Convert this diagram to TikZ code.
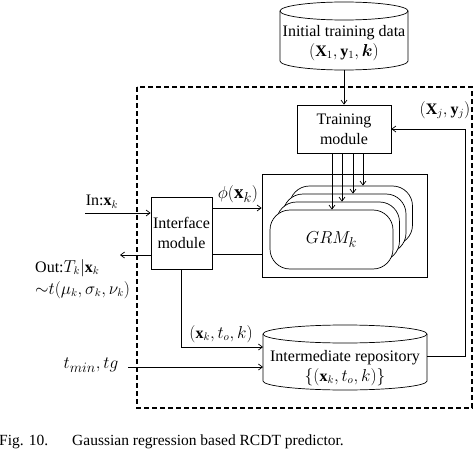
\documentclass[tikz,border=0pt]{standalone}
\usepackage{amsmath,bm}
\usepackage{fontspec}
\setmainfont{Liberation Serif}
\usetikzlibrary{arrows.meta}
\begin{document}
\begin{tikzpicture}[x=1pt,y=-1pt,
  every node/.style={font=\fontsize{16}{20}\selectfont},
  box/.style={draw, fill=white, inner sep=0pt, align=center, line width=0.7pt},
  grm/.style={draw, fill=white, rounded corners=20pt, minimum width=123pt, minimum height=59pt, inner sep=0pt, line width=0.7pt},
  lbl/.style={inner sep=0pt},
  conn/.style={line width=0.7pt},
  arr/.style={conn, -{Straight Barb[length=4pt,width=6pt]}},
  big/.style={font=\fontsize{19}{22}\selectfont},
  capstyle/.style={inner sep=0pt, anchor=west, font=\fontsize{15.5}{18}\selectfont}
]
\useasboundingbox (0,0) rectangle (474,452);
% dashed frame
\draw[line width=1.1pt, dash pattern=on 5pt off 3pt] (137,87) rectangle (472,408);
% initial training data cylinder
\draw[conn, fill=white] (280,11) -- (280,61) arc[start angle=180,end angle=0,x radius=64,y radius=9] -- (408,11);
\draw[conn] (344,11) ellipse[x radius=64,y radius=9];
\node[lbl, align=center] (init) at (344,43) {Initial training data\\$(\mathbf{X}_1,\mathbf{y}_1,\bm{k})$};
\coordinate (initbot) at (344,70);
% training module
\node[box, minimum width=94pt, minimum height=48pt] (train) at (344,129) {Training\\module};
\draw[arr] (initbot) -- (train.north);
% interface
\node[box, minimum width=61pt, minimum height=72pt] (iface) at (181.5,233) {Interface\\module};
% GRM container
\node[draw, inner sep=0pt, minimum width=165pt, minimum height=103pt, line width=0.7pt] (grmbox) at (344.5,225.5) {};
\node[grm] (g4) at (351,215.5) {};
\node[grm] (g3) at (344.5,223.5) {};
\node[grm] (g2) at (338,231.5) {};
\node[grm, font=\fontsize{19}{20}\selectfont] (g1) at (331.5,239.5) {$GRM_k$};
\coordinate (c1) at (332,0);
\coordinate (c2) at (342,0);
\coordinate (c3) at (353,0);
\coordinate (c4) at (363,0);
\draw[arr] (c1 |- train.south) -- (c1 |- g1.north);
\draw[arr] (c2 |- train.south) -- (c2 |- g2.north);
\draw[arr] (c3 |- train.south) -- (c3 |- g3.north);
\draw[arr] (c4 |- train.south) -- (c4 |- g4.north);
% phi
\coordinate (phiy) at (0,208);
\draw[arr] (iface.east |- phiy) -- (grmbox.west |- phiy);
\node[lbl, big] (philbl) at (238,194) {$\phi(\mathbf{x}_k)$};
\coordinate (backy) at (0,254);
\draw[conn] (grmbox.west |- backy) -- (iface.east |- backy);
% in / out
\node[lbl] (inlbl) at (102,202) {In:$\mathbf{x}_k$};
\coordinate (instart) at (85,213);
\draw[arr] (instart) -- (iface.west |- instart);
\coordinate (outend) at (120,255);
\draw[arr] (iface.west |- outend) -- (outend);
\node[lbl, anchor=west] (outlbl) at (35,268) {Out:$T_k|\mathbf{x}_k$};
\node[lbl, anchor=west] (distlbl) at (35,290) {${\sim}t(\mu_k,\sigma_k,\nu_k)$};
% repository
\draw[conn, fill=white] (263,334) -- (263,381) arc[start angle=180,end angle=0,x radius=82,y radius=9] -- (427,334);
\draw[conn] (345,334) ellipse[x radius=82,y radius=9];
\node[lbl, align=center] (repo) at (345,368) {Intermediate repository\\$\{(\mathbf{x}_k,t_o,k)\}$};
\coordinate (repoin) at (263,347);
\coordinate (repoin2) at (263,367);
\coordinate (repoout) at (427,356);
\draw[arr] (iface.south) |- (repoin);
\node[lbl] (xtk) at (221,334) {$(\mathbf{x}_k,t_o,k)$};
\node[lbl, big] (tlbl) at (91,365) {$t_{min},tg$};
\coordinate (tstart) at (128,367);
\draw[arr] (tstart) -- (repoin2);
% feedback
\coordinate (fbx) at (465,129);
\draw[arr] (repoout) -| (fbx) -- (train.east);
\node[lbl] (xjlbl) at (445,110) {$(\mathbf{X}_j,\mathbf{y}_j)$};
% caption
\node[capstyle] (fig) at (-1,442) {Fig. 10.};
\node[capstyle] (captext) at (72,442) {Gaussian regression based RCDT predictor.};
\end{tikzpicture}
\end{document}
